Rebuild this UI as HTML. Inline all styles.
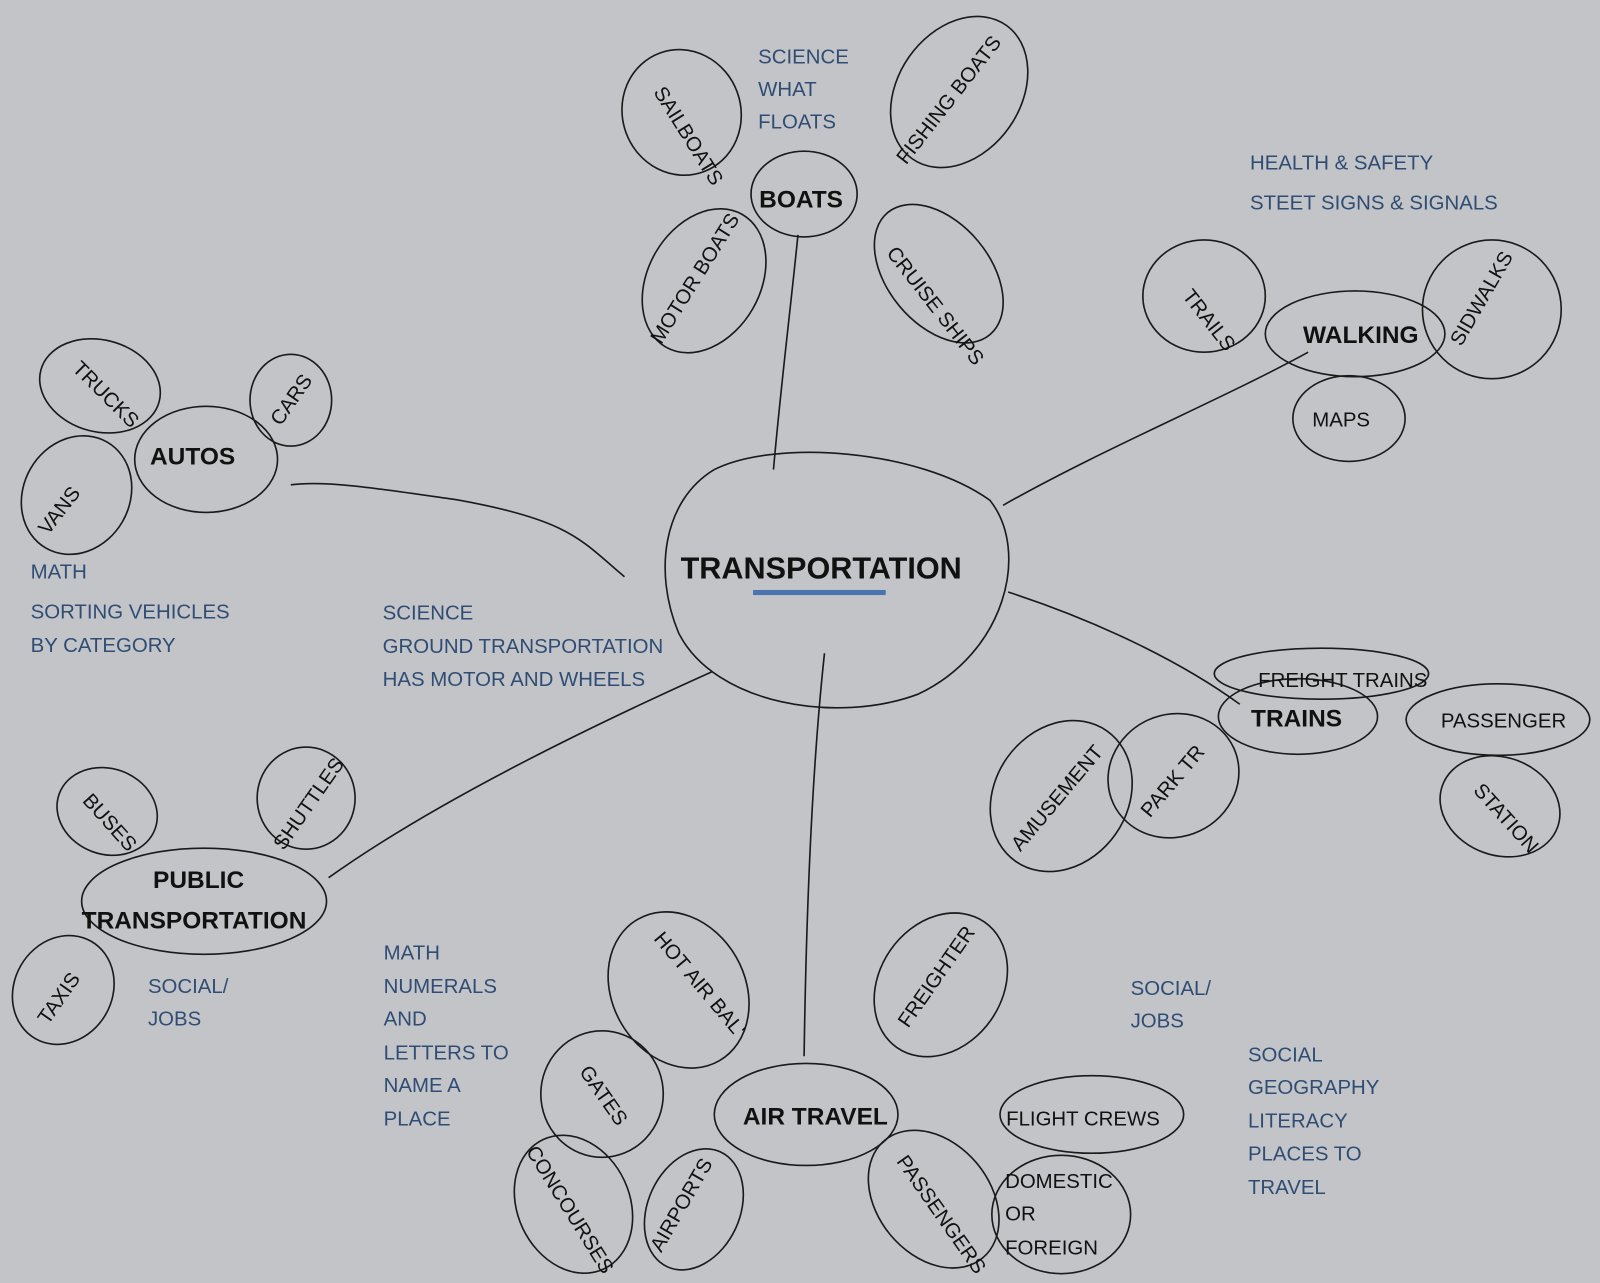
<!DOCTYPE html>
<html><head><meta charset="utf-8"><style>
html,body{margin:0;padding:0;background:#c3c4c8}
svg{display:block}
.k{font-family:"Liberation Sans",sans-serif;fill:#111;font-size:20px}
.b{font-family:"Liberation Sans",sans-serif;fill:#111;font-size:24px;font-weight:bold}
.u{font-family:"Liberation Sans",sans-serif;fill:#2f4d74;font-size:20px}
ellipse,path,line{fill:none;stroke:#1a1a1a;stroke-width:1.6}
</style></head><body>
<svg width="1600" height="1283" viewBox="0 0 1568 1257" xmlns="http://www.w3.org/2000/svg">
<rect width="1568" height="1257" fill="#c3c4c8"/>
<path d="M700 460 C760 430 900 440 970 490 C1010 540 985 640 900 680 C820 710 700 690 665 620 C640 560 650 490 700 460 Z"/>
<text class="b" x="667" y="567" style="font-size:30px">TRANSPORTATION</text>
<rect x="738" y="578" width="130" height="5" fill="#4a74ad"/>
<path d="M758 460 C765 380 775 300 782 230"/>
<path d="M983 495 C1080 440 1200 390 1282 345"/>
<path d="M988 580 C1080 610 1160 650 1215 690"/>
<path d="M808 640 C795 760 790 900 788 1035"/>
<path d="M698 658 C560 720 420 790 322 860"/>
<path d="M612 565 C570 530 560 510 450 490 C380 480 320 470 285 475"/>
<ellipse cx="788" cy="190" rx="52" ry="42"/>
<text class="b" x="744" y="203">BOATS</text>
<ellipse cx="668" cy="110" rx="58" ry="62" transform="rotate(-20 668 110)"/>
<text class="k" transform="translate(640 90) rotate(58)">SAILBOATS</text>
<ellipse cx="690" cy="275" rx="55" ry="75" transform="rotate(30 690 275)"/>
<text class="k" transform="translate(648 338) rotate(-58)">MOTOR BOATS</text>
<ellipse cx="940" cy="90" rx="60" ry="80" transform="rotate(35 940 90)"/>
<text class="k" transform="translate(888 162) rotate(-52)">FISHING BOATS</text>
<ellipse cx="920" cy="268" rx="50" ry="78" transform="rotate(-40 920 268)"/>
<text class="k" transform="translate(868 248) rotate(52)">CRUISE SHIPS</text>
<text class="u" x="743" y="62">SCIENCE</text>
<text class="u" x="743" y="94">WHAT</text>
<text class="u" x="743" y="126">FLOATS</text>
<ellipse cx="1328" cy="327" rx="88" ry="42"/>
<text class="b" x="1277" y="336">WALKING</text>
<ellipse cx="1180" cy="290" rx="60" ry="55"/>
<text class="k" transform="translate(1158 290) rotate(52)">TRAILS</text>
<ellipse cx="1462" cy="303" rx="68" ry="68"/>
<text class="k" transform="translate(1432 340) rotate(-60)">SIDWALKS</text>
<ellipse cx="1322" cy="410" rx="55" ry="42"/>
<text class="k" x="1286" y="418">MAPS</text>
<text class="u" x="1225" y="166">HEALTH &amp; SAFETY</text>
<text class="u" x="1225" y="205">STEET SIGNS &amp; SIGNALS</text>
<ellipse cx="202" cy="450" rx="70" ry="52"/>
<text class="b" x="147" y="455">AUTOS</text>
<ellipse cx="98" cy="378" rx="60" ry="45" transform="rotate(15 98 378)"/>
<text class="k" transform="translate(70 362) rotate(45)">TRUCKS</text>
<ellipse cx="285" cy="392" rx="40" ry="45"/>
<text class="k" transform="translate(275 418) rotate(-55)">CARS</text>
<ellipse cx="75" cy="485" rx="52" ry="60" transform="rotate(30 75 485)"/>
<text class="k" transform="translate(47 525) rotate(-52)">VANS</text>
<text class="u" x="30" y="567">MATH</text>
<text class="u" x="30" y="606">SORTING VEHICLES</text>
<text class="u" x="30" y="639">BY CATEGORY</text>
<text class="u" x="375" y="607">SCIENCE</text>
<text class="u" x="375" y="640">GROUND TRANSPORTATION</text>
<text class="u" x="375" y="672">HAS MOTOR AND WHEELS</text>
<ellipse cx="1272" cy="702" rx="78" ry="37"/>
<text class="b" x="1226" y="712">TRAINS</text>
<ellipse cx="1295" cy="660" rx="105" ry="25"/>
<text class="k" x="1233" y="673">FREIGHT TRAINS</text>
<ellipse cx="1468" cy="705" rx="90" ry="35"/>
<text class="k" x="1412" y="713">PASSENGER</text>
<ellipse cx="1470" cy="790" rx="60" ry="48" transform="rotate(20 1470 790)"/>
<text class="k" transform="translate(1443 775) rotate(48)">STATION</text>
<ellipse cx="1150" cy="760" rx="65" ry="60" transform="rotate(-25 1150 760)"/>
<text class="k" transform="translate(1127 802) rotate(-50)">PARK TR</text>
<ellipse cx="1040" cy="780" rx="65" ry="78" transform="rotate(35 1040 780)"/>
<text class="k" transform="translate(1000 835) rotate(-50)">AMUSEMENT</text>
<ellipse cx="200" cy="883" rx="120" ry="52"/>
<text class="b" x="150" y="870">PUBLIC</text>
<text class="b" x="80" y="910">TRANSPORTATION</text>
<ellipse cx="105" cy="795" rx="50" ry="42" transform="rotate(20 105 795)"/>
<text class="k" transform="translate(80 785) rotate(48)">BUSES</text>
<ellipse cx="300" cy="782" rx="48" ry="50"/>
<text class="k" transform="translate(278 834) rotate(-55)">SHUTTLES</text>
<ellipse cx="62" cy="970" rx="48" ry="55" transform="rotate(30 62 970)"/>
<text class="k" transform="translate(47 1005) rotate(-55)">TAXIS</text>
<text class="u" x="145" y="973">SOCIAL/</text>
<text class="u" x="145" y="1005">JOBS</text>
<text class="u" x="376" y="940">MATH</text>
<text class="u" x="376" y="973">NUMERALS</text>
<text class="u" x="376" y="1005">AND</text>
<text class="u" x="376" y="1038">LETTERS TO</text>
<text class="u" x="376" y="1070">NAME A</text>
<text class="u" x="376" y="1103">PLACE</text>
<ellipse cx="790" cy="1092" rx="90" ry="50"/>
<text class="b" x="728" y="1102">AIR TRAVEL</text>
<ellipse cx="665" cy="970" rx="65" ry="80" transform="rotate(-30 665 970)"/>
<text class="k" transform="translate(640 920) rotate(-130) scale(-1 -1)">HOT AIR BAL'</text>
<ellipse cx="922" cy="965" rx="60" ry="75" transform="rotate(35 922 965)"/>
<text class="k" transform="translate(890 1008) rotate(-55)">FREIGHTER</text>
<ellipse cx="590" cy="1072" rx="60" ry="62"/>
<text class="k" transform="translate(567 1050) rotate(55)">GATES</text>
<ellipse cx="1070" cy="1092" rx="90" ry="38"/>
<text class="k" x="986" y="1103">FLIGHT CREWS</text>
<ellipse cx="562" cy="1180" rx="55" ry="70" transform="rotate(-25 562 1180)"/>
<text class="k" transform="translate(515 1128) rotate(58)">CONCOURSES</text>
<ellipse cx="680" cy="1185" rx="45" ry="62" transform="rotate(25 680 1185)"/>
<text class="k" transform="translate(648 1228) rotate(-60)">AIRPORTS</text>
<ellipse cx="915" cy="1175" rx="55" ry="75" transform="rotate(-40 915 1175)"/>
<text class="k" transform="translate(878 1138) rotate(55)">PASSENGERS</text>
<ellipse cx="1040" cy="1190" rx="68" ry="58"/>
<text class="k" x="985" y="1164">DOMESTIC</text>
<text class="k" x="985" y="1196">OR</text>
<text class="k" x="985" y="1229">FOREIGN</text>
<text class="u" x="1108" y="975">SOCIAL/</text>
<text class="u" x="1108" y="1007">JOBS</text>
<text class="u" x="1223" y="1040">SOCIAL</text>
<text class="u" x="1223" y="1072">GEOGRAPHY</text>
<text class="u" x="1223" y="1105">LITERACY</text>
<text class="u" x="1223" y="1137">PLACES TO</text>
<text class="u" x="1223" y="1170">TRAVEL</text>
</svg>
</body></html>
